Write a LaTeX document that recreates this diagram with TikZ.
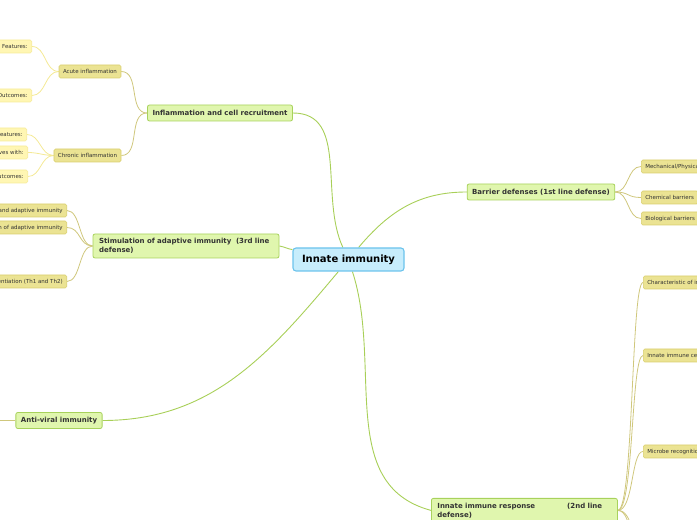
\documentclass[tikz,border=0pt]{standalone}
\usepackage{fontspec}
\setmainfont{DejaVu Sans}

\definecolor{rootfill}{HTML}{C7EDFC}
\definecolor{rootline}{HTML}{6BC3EC}
\definecolor{topicfill}{HTML}{E0F6AE}
\definecolor{topicline}{HTML}{A8D25C}
\definecolor{subfill}{HTML}{EBE393}
\definecolor{subline}{HTML}{D9CF6E}
\definecolor{leaffill}{HTML}{FFF6B3}
\definecolor{leafline}{HTML}{F6EB98}
\definecolor{mainedge}{HTML}{A8CF58}
\definecolor{subedge}{HTML}{CFC77C}
\definecolor{leafedge}{HTML}{F4E995}
\definecolor{textgray}{HTML}{333333}

\pgfdeclarelayer{bg}
\pgfsetlayers{bg,main}

\tikzset{
    rootnode/.style={draw=rootline, fill=rootfill, line width=1.1pt, rounded corners=3pt,
        font=\bfseries\fontsize{10}{12}\selectfont, text=black, minimum width=111pt, minimum height=23pt},
    topicnode/.style={draw=topicline, fill=topicfill, line width=0.8pt, rounded corners=2pt,
        font=\bfseries\fontsize{7}{9}\selectfont, text=textgray, minimum height=16pt, inner xsep=5pt, inner ysep=2pt},
    subnode/.style={draw=subline, fill=subfill, line width=0.6pt, rounded corners=1.5pt,
        font=\fontsize{5.5}{6.5}\selectfont, text=textgray, minimum height=13pt, inner xsep=4pt, inner ysep=1pt},
    leafnode/.style={subnode, draw=leafline, fill=leaffill},
    mainlink/.style={draw=mainedge, line width=0.9pt},
    sublink/.style={draw=subedge, line width=0.8pt},
    leaflink/.style={draw=leafedge, line width=0.8pt}
}

\begin{document}
\begin{tikzpicture}[x=1pt, y=1pt]
        \useasboundingbox (0,0) rectangle (697,520);
        \clip (0,0) rectangle (697,520);

        % Node definitions
        \node (center) [rootnode] at (348.5,260.5) {Innate immunity};

        \node (infl) [topicnode] at (220,407) {Inflammation and cell recruitment};
        \node (acute) [subnode] at (90,448.5) {Acute inflammation};
        \node (featA) [leafnode, anchor=east] at (32,473.5) {Features:};
        \node (outA) [leafnode, anchor=east] at (32,424.5) {Outcomes:};
        \node (chronic) [subnode] at (87.5,364.5) {Chronic inflammation};
        \node (featC) [leafnode, anchor=east] at (27,385.5) {Features:};
        \node (evolC) [leafnode, anchor=east] at (28,367.5) {Evolves with:};
        \node (outC) [leafnode, anchor=east] at (28,343.5) {Outcomes:};

        \node (stim) [topicnode, text width=174pt, align=left, minimum height=24pt, inner xsep=6pt] at (186,274)
            {Stimulation of adaptive immunity ~(3rd line\\defense)};
        \node (link) [subnode, anchor=east] at (67,309.5) {Link between innate and adaptive immunity};
        \node (induct) [subnode, anchor=east] at (67,292.5) {Induction of adaptive immunity};
        \node (thdiff) [subnode, anchor=east] at (67,238.5) {Th cell differentiation (Th1 and Th2)};

        \node (antiviral) [topicnode] at (59,99.5) {Anti-viral immunity};
        \coordinate (avchild) at (-20,99.5);

        \node (barrier) [topicnode] at (541,328) {Barrier defenses (1st line defense)};
        \node (mech) [subnode, anchor=west] at (641,353.5) {Mechanical/Physical barriers};
        \node (chem) [subnode, anchor=west] at (641,322.5) {Chemical barriers};
        \node (bio) [subnode, anchor=west] at (641,301.5) {Biological barriers};

        \node (innresp) [topicnode, text width=174pt, align=left, minimum height=24pt, inner xsep=6pt, anchor=north west] at (431,22)
            {Innate immune response\hspace{32pt}(2nd line\\defense)};
        \node (charac) [subnode, anchor=west] at (643,237.5) {Characteristic of innate immunity};
        \node (cells) [subnode, anchor=west] at (643,164.5) {Innate immune cells};
        \node (microbe) [subnode, anchor=west] at (643,68.5) {Microbe recognition};
        \coordinate (innD) at (643,-25);
        \coordinate (innE) at (643,-45);

        % Connectors
        \begin{pgfonlayer}{bg}
            \draw[mainlink] (infl.east) to[out=0, in=115] (center);
            \draw[mainlink] (center) to[out=50, in=180] (barrier.west);
            \draw[mainlink] (stim.east) to[out=-10, in=170] (center);
            \draw[mainlink] (antiviral.east) to[out=0, in=230] (center);
            \draw[mainlink] (center) to[out=-72, in=165] (innresp.west);

            \draw[sublink] (infl.west) to[out=180, in=0] (acute.east);
            \draw[sublink] (infl.west) to[out=180, in=0] (chronic.east);
            \draw[leaflink] (acute.west) to[out=180, in=0] (featA.east);
            \draw[leaflink] (acute.west) to[out=180, in=0] (outA.east);
            \draw[leaflink] (chronic.west) to[out=180, in=0] (featC.east);
            \draw[leaflink] (chronic.west) to[out=180, in=0] (evolC.east);
            \draw[leaflink] (chronic.west) to[out=180, in=0] (outC.east);

            \draw[sublink] (stim.west) .. controls +(-14,0) and +(14,0) .. (link.east);
            \draw[sublink] (stim.west) .. controls +(-14,0) and +(14,0) .. (induct.east);
            \draw[sublink] (stim.west) .. controls +(-14,0) and +(14,0) .. (thdiff.east);

            \draw[sublink] (antiviral.west) -- (avchild);

            \draw[sublink] (barrier.east) .. controls +(14,0) and +(-14,0) .. (mech.west);
            \draw[sublink] (barrier.east) .. controls +(14,0) and +(-14,0) .. (chem.west);
            \draw[sublink] (barrier.east) .. controls +(14,0) and +(-14,0) .. (bio.west);

            \draw[sublink] (innresp.east) .. controls +(16,0) and +(-12,0) .. (charac.west);
            \draw[sublink] (innresp.east) .. controls +(16,0) and +(-12,0) .. (cells.west);
            \draw[sublink] (innresp.east) .. controls +(16,0) and +(-12,0) .. (microbe.west);
            \draw[sublink] (innresp.east) .. controls +(16,0) and +(-12,0) .. (innD);
            \draw[sublink] (innresp.east) .. controls +(16,0) and +(-12,0) .. (innE);
        \end{pgfonlayer}
    \end{tikzpicture}
\end{document}
